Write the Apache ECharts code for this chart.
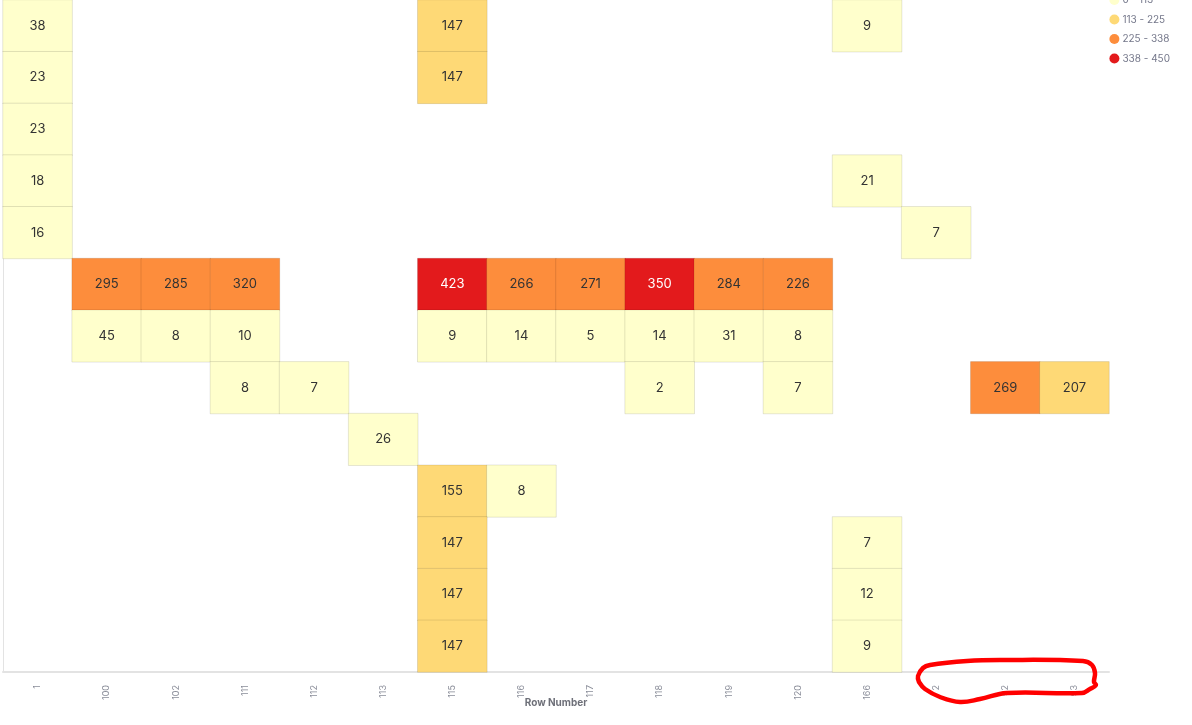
<!DOCTYPE html>
<html>
<head>
<meta charset="utf-8">
<script src="https://cdn.jsdelivr.net/npm/echarts@6/dist/echarts.min.js"></script>
<style>
html,body{margin:0;padding:0;background:#fff;}
#chart{width:1192px;height:725px;}
</style>
</head>
<body>
<div id="chart"></div>
<script>
// X categories (Row Number)
var xCategories = ['1','100','102','111','112','113','115','116','117','118','119','120','166','2','92','93'];
// Y categories, top to bottom (labels hidden in the reference)
var yCategories = ['r1','r2','r3','r4','r5','r6','r7','r8','r9','r10','r11','r12','r13'];
// Values per row, aligned with xCategories (null = empty)
//            1    100  102  111  112  113  115  116  117  118  119  120  166  2    92   93
var row1  = [38,  null,null,null,null,null,147, null,null,null,null,null,9,   null,null,null];
var row2  = [23,  null,null,null,null,null,147, null,null,null,null,null,null,null,null,null];
var row3  = [23,  null,null,null,null,null,null,null,null,null,null,null,null,null,null,null];
var row4  = [18,  null,null,null,null,null,null,null,null,null,null,null,21,  null,null,null];
var row5  = [16,  null,null,null,null,null,null,null,null,null,null,null,null,7,   null,null];
var row6  = [null,295, 285, 320, null,null,423, 266, 271, 350, 284, 226, null,null,null,null];
var row7  = [null,45,  8,   10,  null,null,9,   14,  5,   14,  31,  8,   null,null,null,null];
var row8  = [null,null,null,8,   7,   null,null,null,null,2,   null,7,   null,null,269, 207];
var row9  = [null,null,null,null,null,26,  null,null,null,null,null,null,null,null,null,null];
var row10 = [null,null,null,null,null,null,155, 8,   null,null,null,null,null,null,null,null];
var row11 = [null,null,null,null,null,null,147, null,null,null,null,null,7,   null,null,null];
var row12 = [null,null,null,null,null,null,147, null,null,null,null,null,12,  null,null,null];
var row13 = [null,null,null,null,null,null,147, null,null,null,null,null,9,   null,null,null];
var rows = [row1,row2,row3,row4,row5,row6,row7,row8,row9,row10,row11,row12,row13];
// Legend ranges
var pieceBounds = [0, 113, 225, 338, 450];
var pieceColors = ['#ffffcc', '#fed976', '#fd8d3c', '#e31a1c'];

var data = [];
rows.forEach(function (r, yi) {
  r.forEach(function (v, xi) {
    if (v === null) return;
    var item = { value: [xi, yi, v] };
    if (v > pieceBounds[3]) item.label = { color: '#ffffff' };
    data.push(item);
  });
});

var pieces = [];
for (var j = 0; j < pieceColors.length; j++) {
  pieces.push({ min: pieceBounds[j], max: pieceBounds[j + 1], label: pieceBounds[j] + ' - ' + pieceBounds[j + 1], color: pieceColors[j] });
}

var chart = echarts.init(document.getElementById('chart'));
chart.setOption({
  animation: false,
  textStyle: { fontFamily: 'Inter, sans-serif' },
  grid: { left: 3, right: 83, top: 0, bottom: 53, containLabel: false },
  xAxis: {
    type: 'category',
    data: xCategories,
    name: 'Row Number',
    nameLocation: 'middle',
    nameGap: 26,
    nameMoveOverlap: false,
    nameTextStyle: { color: '#6e7079', fontSize: 10, fontWeight: 'bold' },
    axisLine: { lineStyle: { color: '#e3e3e3', width: 2 } },
    axisTick: { alignWithLabel: true, length: 5, lineStyle: { color: '#e3e3e3' } },
    axisLabel: { rotate: 90, fontSize: 9, color: '#8a8d99', margin: 13 },
    splitArea: { show: false }
  },
  yAxis: {
    type: 'category',
    data: yCategories,
    inverse: true,
    axisLine: { lineStyle: { color: '#e3e3e3', width: 1 } },
    axisTick: { alignWithLabel: true, length: 3, lineStyle: { color: '#e3e3e3' } },
    axisLabel: { show: false }
  },
  visualMap: {
    type: 'piecewise',
    dimension: 2,
    orient: 'vertical',
    align: 'left',
    inverse: true,
    right: 17,
    top: -10,
    padding: 5,
    itemWidth: 10,
    itemHeight: 10,
    itemGap: 9.5,
    itemSymbol: 'circle',
    textGap: 3,
    textStyle: { color: '#74778a', fontSize: 10 },
    pieces: pieces
  },
  series: [{
    type: 'heatmap',
    data: data,
    label: { show: true, color: '#333333', fontSize: 13, formatter: function (p) { return p.value[2]; } },
    itemStyle: { borderColor: 'rgba(0,0,0,0.1)', borderWidth: 1 }
  }],
  graphic: [{
    type: 'polyline',
    z: 100,
    shape: {
      smooth: 0.4,
      points: [[919,682],[918,676],[923,668],[930,665],[967,661],[1000,660],[1083,661],[1092,665],[1095,673],[1094,682],[1096,685],[1090,689],[1082,693],[1007,693],[980,699],[960,702],[940,697],[925,689],[919,682]]
    },
    style: { stroke: '#ff0000', lineWidth: 4.5, fill: null, lineJoin: 'round', lineCap: 'round' }
  }]
});
</script>
</body>
</html>
